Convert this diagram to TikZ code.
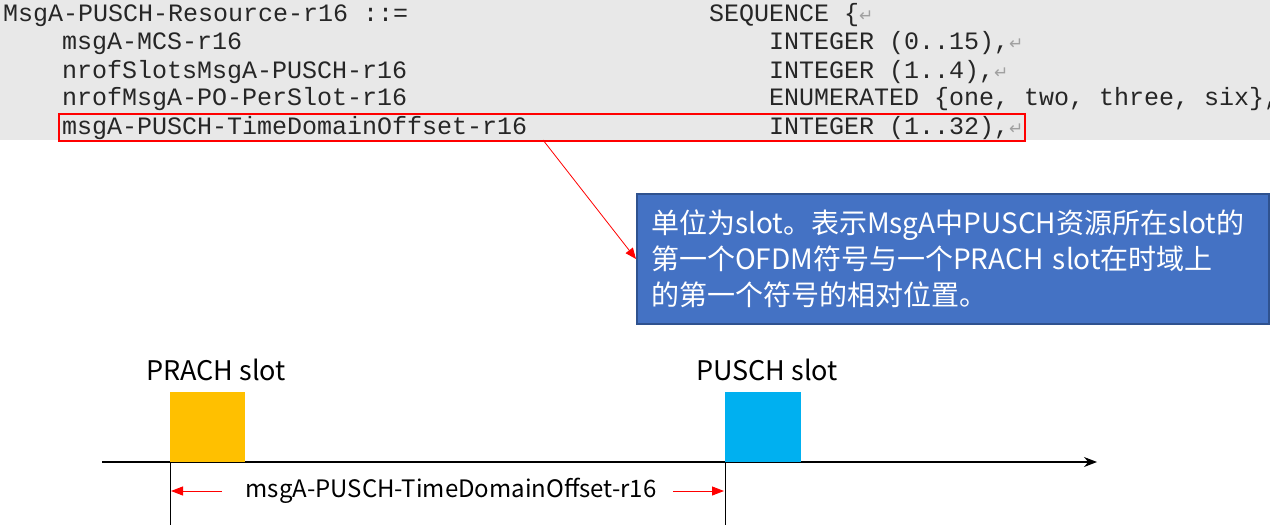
\documentclass[tikz,border=0pt]{standalone}
\usepackage{fontspec}
\setmainfont{Noto Sans CJK SC}
\newfontfamily\codefont{Liberation Mono}
\newfontfamily\symfont{DejaVu Sans}
\usetikzlibrary{arrows.meta}
\definecolor{bggray}{HTML}{E8E8E8}
\definecolor{codegray}{HTML}{262626}
\definecolor{retgray}{HTML}{A0A0A0}
\definecolor{bluefill}{HTML}{4472C4}
\definecolor{blueedge}{HTML}{2F528F}
\definecolor{prachc}{HTML}{FFC000}
\definecolor{puschc}{HTML}{00B0F0}
\definecolor{redc}{HTML}{FF0000}
\newcommand{\retmark}{{\symfont\color{retgray}\fontsize{17}{17}\selectfont ↵}}
\tikzset{
  code/.style={anchor=base west, inner sep=0pt, font=\codefont\fontsize{25}{25}\selectfont, text=codegray},
  slotbox/.style={anchor=south west, minimum width=75pt, minimum height=70pt, inner sep=0pt},
  slotlabel/.style={anchor=base, inner sep=0pt, font=\fontsize{27}{27}\selectfont, text=black},
  redarrow/.style={draw=redc, line width=1pt, -{Triangle[length=12pt,width=9pt]}},
}
\begin{document}
\begin{tikzpicture}[x=1pt,y=-1pt]
\useasboundingbox (0,0) rectangle (1270,527);
\fill[bggray] (0,0) rectangle (1270,140);
% code lines
\node[code] (l1) at (3,22) {MsgA-PUSCH-Resource-r16 ::=};
\node[code] (l2) at (62,50) {msgA-MCS-r16};
\node[code] (l3) at (62,78) {nrofSlotsMsgA-PUSCH-r16};
\node[code] (l4) at (62,106) {nrofMsgA-PO-PerSlot-r16};
\node[code] (l5) at (62,134) {msgA-PUSCH-TimeDomainOffset-r16};
\node[code] (r1) at (709,22) {SEQUENCE \{\retmark};
\node[code] (r2) at (769,50) {INTEGER (0..15),\retmark};
\node[code] (r3) at (769,78) {INTEGER (1..4),\retmark};
\node[code] (r4) at (769,106) {ENUMERATED \{one, two, three, six\},};
\node[code] (r5) at (769,134) {INTEGER (1..32),\retmark};
% red highlight box
\node[draw=redc, line width=2pt, anchor=north west, minimum width=966pt, minimum height=27pt, inner sep=0pt] (hl) at (58,113) {};
% callout
\node[fill=bluefill, draw=blueedge, line width=2pt, anchor=north west,
      minimum width=632pt, minimum height=130pt, text width=604pt, inner xsep=14pt,
      align=left, text=white, font=\fontsize{28}{36}\selectfont] (note) at (636,193)
  {单位为slot。表示MsgA中PUSCH资源所在slot的\\第一个OFDM符号与一个PRACH slot在时域上\\的第一个符号的相对位置。};
\coordinate (cstart) at (543,140);
\draw[draw=redc, line width=0.8pt, -{Triangle[length=11pt,width=9pt]}] (cstart) -- (note.west);
% timeline
\coordinate (ax0) at (102,462);
\coordinate (ax1) at (1097,462);
\draw[line width=1.1pt, -{Stealth[length=13pt,width=10pt]}] (ax0) -- (ax1);
\node[slotbox, fill=prachc] (prach) at (170,462) {};
\node[slotbox, fill=puschc, minimum width=76pt] (pusch) at (725,462) {};
\node[slotlabel] (prachlbl) at (216,380) {PRACH slot};
\node[slotlabel] (puschlbl) at (767,380) {PUSCH slot};
\coordinate (v1) at (170,525);
\coordinate (v2) at (725,525);
\draw[line width=1pt] (prach.south west) -- (v1);
\draw[line width=1pt] (pusch.south west) -- (v2);
% offset dimension
\coordinate (d1s) at (222,491);
\coordinate (d1e) at (171,491);
\coordinate (d2s) at (673,491);
\coordinate (d2e) at (724,491);
\draw[redarrow] (d1s) -- (d1e);
\draw[redarrow] (d2s) -- (d2e);
\node[anchor=base, inner sep=0pt, font=\fontsize{24}{24}\selectfont] (offlbl) at (451,497) {msgA-PUSCH-TimeDomainOffset-r16};
\end{tikzpicture}
\end{document}
